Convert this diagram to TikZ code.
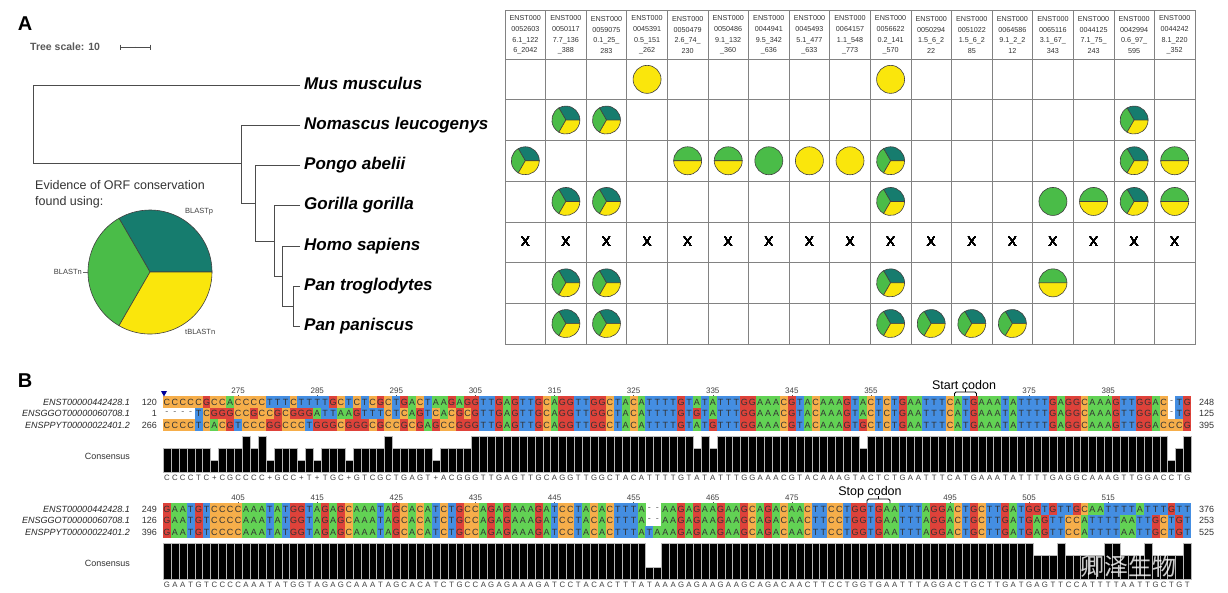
\documentclass[tikz,border=0pt]{standalone}
\usepackage{fontspec}
\setmainfont{Liberation Sans}
\newfontfamily\cjkfont{Noto Sans CJK SC}
\usepackage{xstring}
\usetikzlibrary{positioning}

\definecolor{cteal}{RGB}{22,124,110}
\definecolor{cgreen}{RGB}{74,188,72}
\definecolor{cyellow}{RGB}{250,230,12}
\definecolor{baseA}{RGB}{98,210,84}
\definecolor{baseC}{RGB}{246,174,74}
\definecolor{baseG}{RGB}{222,66,58}
\definecolor{baseT}{RGB}{68,142,226}
\definecolor{gridgray}{RGB}{130,130,130}

\tikzset{
  species/.style={font=\fontsize{17}{19}\selectfont\bfseries\itshape, anchor=west,
    inner xsep=4pt, inner ysep=0pt, text height=12.5pt, text depth=3.5pt},
  branch/.style={draw=black!70, line width=0.8pt},
  hdr/.style={font=\fontsize{7.2}{10.6}\selectfont, align=center, text=black!80, inner sep=0pt},
  gridline/.style={draw=gridgray, line width=0.6pt},
  pieedge/.style={draw=black!75, line width=0.6pt},
  xmark/.style={font=\fontsize{13.5}{14}\selectfont, inner sep=0pt},
  pielabel/.style={font=\fontsize{7.5}{8}\selectfont, text=black!75, inner sep=1pt},
  seqbase/.style={minimum width=7.95pt, minimum height=11.6pt, inner sep=0pt,
    font=\fontsize{9}{9}\selectfont, text=black!80},
  gapbase/.style={minimum width=7.9pt, minimum height=11.5pt, inner sep=0pt,
    font=\fontsize{9}{9}\selectfont, text=black!60},
  consbar/.style={fill=black, draw=gray!55, line width=0.2pt},
  conslet/.style={font=\fontsize{7.8}{8}\selectfont, text=black!75, inner sep=0pt},
  rulerlab/.style={font=\fontsize{8}{8}\selectfont, text=black!75, inner sep=0pt},
  rulertick/.style={draw=black!70, line width=0.5pt},
  idlab/.style={font=\fontsize{9}{9}\selectfont\itshape, text=black!85, anchor=east, inner sep=0pt},
  numlab/.style={font=\fontsize{9}{9}\selectfont, text=black!80, inner sep=0pt},
  codon/.style={font=\fontsize{12.5}{13}\selectfont, inner sep=0pt},
  bracket/.style={draw=black, line width=0.9pt, rounded corners=1.5pt}
}

% pies: #1 centre, #2 radius (with unit)
\newcommand\piep[2]{%
  \filldraw[pieedge, fill=cteal] #1 -- +(0:#2) arc[start angle=0, end angle=120, radius=#2] -- cycle;
  \filldraw[pieedge, fill=cgreen] #1 -- +(120:#2) arc[start angle=120, end angle=240, radius=#2] -- cycle;
  \filldraw[pieedge, fill=cyellow] #1 -- +(240:#2) arc[start angle=240, end angle=360, radius=#2] -- cycle;}
\newcommand\pieh[2]{%
  \filldraw[pieedge, fill=cgreen] #1 -- +(0:#2) arc[start angle=0, end angle=180, radius=#2] -- cycle;
  \filldraw[pieedge, fill=cyellow] #1 -- +(180:#2) arc[start angle=180, end angle=360, radius=#2] -- cycle;}
\newcommand\piey[2]{\filldraw[pieedge, fill=cyellow] #1 circle[radius=#2];}
\newcommand\pieg[2]{\filldraw[pieedge, fill=cgreen] #1 circle[radius=#2];}

% one cell of the alignment: x, y, base, name
\newcommand\basecell[4]{%
  \if#3-\node[gapbase] (#4) at (#1,#2) {-};%
  \else\node[seqbase, fill=base#3] (#4) at (#1,#2) {#3};\fi}

% alignment block: #1 first row y, #2-#4 rows, #5 name, #6 first ruler number, #7 hidden ruler label
\newcommand\alignblock[7]{%
  \foreach \i in {1,...,130}{%
    \pgfmathsetmacro\xc{163+(\i-0.5)*7.91}%
    \StrChar{#2}{\i}[\ba]\StrChar{#3}{\i}[\bb]\StrChar{#4}{\i}[\bc]%
    \basecell{\xc}{#1}{\ba}{#5h\i}%
    \basecell{\xc}{#1+11.5}{\bb}{#5g\i}%
    \basecell{\xc}{#1+23}{\bc}{#5p\i}%
    % consensus level and letter
    \def\lvl{1}\def\cl{+}%
    \edef\ngap{\the\numexpr(\if\ba-1\else0\fi)+(\if\bb-1\else0\fi)+(\if\bc-1\else0\fi)\relax}%
    \ifnum\ngap=2
      \if\ba-\else\edef\cl{\ba}\fi
      \if\bb-\else\edef\cl{\bb}\fi
      \if\bc-\else\edef\cl{\bc}\fi
    \fi
    \if\bb\bc\if\bb-\else\def\lvl{2}\edef\cl{\bb}\fi\fi
    \if\ba\bc\if\ba-\else\def\lvl{2}\edef\cl{\ba}\fi\fi
    \if\ba\bb\if\ba-\else\def\lvl{2}\edef\cl{\ba}\fi\fi
    \if\ba\bb\if\bb\bc\if\ba-\else\def\lvl{3}\fi\fi\fi
    \filldraw[consbar] (\xc-3.955,#1+70) rectangle ++(7.91,-12*\lvl);
    \node[conslet] (#5c\i) at (\xc,#1+76) {\cl};
  }%
  \foreach \j in {0,...,11}{%
    \ifnum\j=#7\else
    \pgfmathsetmacro\xc{163+(9.5+10*\j)*7.91}%
    \pgfmathtruncatemacro\pos{#6+10*\j}%
    \node[rulerlab] (#5r\j) at (\xc,#1-11) {\pos};
    \draw[rulertick] (\xc,#1-7.2) -- (\xc,#1-6.2);
    \fi
  }}

% sequences
\def\seqHa{CCCCCGCCACCCCTTTCTTTTGCTCTCGCTGACTAAGAGGTTGAGTTGCAGGTTGGCTACATTTTGTATATTTGGAAACGTACAAAGTACTCTGAATTTCATGAAATATTTTGAGGCAAAGTTGGAC-TG}
\def\seqGa{----TCGGGCCGCCGCGGGATTAAGTTTCTCAGTCACGCGTTGAGTTGCAGGTTGGCTACATTTTGTGTATTTGGAAACGTACAAAGTACTCTGAATTTCATGAAATATTTTGAGGCAAAGTTGGAC-TG}
\def\seqPa{CCCCTCACGTCCCGGCCCTGGGCGGGCGCCGCGAGCCGGGTTGAGTTGCAGGTTGGCTACATTTTGTATGTTTGGAAACGTACAAAGTGCTCTGAATTTCATGAAATATTTTGAGGCAAAGTTGGACCCG}
\def\seqHb{GAATGTCCCCAAATATGGTAGAGCAAATAGCACATCTGCCAGAGAAAGATCCTACACTTTA--AAGAGAAGAAGCAGACAACTTCCTGGTGAATTTAGGACTGCTTGATGGTGTTGCAATTTTATTTGTT}
\def\seqGb{GAATGTCCCCAAATATGGTAGAGCAAATAGCACATCTGCCAGAGAAAGATCCTACACTTTA--AAGAGAAGAAGCAGACAACTTCCTGGTGAATTTAGGACTGCTTGATGAGTTCCATTTTAATTGCTGT}
\def\seqPb{GAATGTCCCCAAATATGGTAGAGCAAATAGCACATCTGCCAGAGAAAGATCCTACACTTTATAAAGAGAAGAAGCAGACAACTTCCTGGTGAATTTAGGACTGCTTGATGAGTTCCATTTTAATTGCTGT}

\begin{document}
\begin{tikzpicture}[x=1pt, y=-1pt]
  \useasboundingbox[fill=white] (0,0) rectangle (1228,592);

  % panel A: tree
  \node[font=\fontsize{20}{20}\selectfont\bfseries, inner sep=0pt] (panA) at (25,24) {A};
  \node[font=\fontsize{10.5}{11}\selectfont\bfseries, text=black!65, anchor=west, inner sep=0pt] (scale) at (30,47) {Tree scale: 10};
  \draw[black!70, line width=0.7pt] (120,47) -- (150,47);
  \draw[black!70, line width=0.7pt] (120,44.5) -- (120,49.5) (150,44.5) -- (150,49.5) (135,46.5) -- (135,47.5);

  \node[species] (mus) at (300,85) {Mus musculus};
  \node[species] (nomascus) at (300,125) {Nomascus leucogenys};
  \node[species] (pongo) at (300,165) {Pongo abelii};
  \node[species] (gorilla) at (300,205) {Gorilla gorilla};
  \node[species] (homo) at (300,246) {Homo sapiens};
  \node[species] (ptro) at (300,286) {Pan troglodytes};
  \node[species] (ppan) at (300,326) {Pan paniscus};

  \draw[branch] (mus.west) -| (33,163) -- (241,163);
  \draw[branch] (nomascus.west) -| (241,203) -- (255,203);
  \draw[branch] (pongo.west) -| (255,241) -- (274,241);
  \draw[branch] (gorilla.west) -| (274,276) -- (282,276);
  \draw[branch] (homo.west) -| (282,306) -- (293,306);
  \draw[branch] (ptro.west) -| (293,326) -- (ppan.west);

  % legend
  \node[anchor=north west, align=left, font=\fontsize{12.5}{16}\selectfont, text=black!80, inner sep=0pt] (evid) at (35,180) {Evidence of ORF conservation\\found using:};
  \piep{(150,272)}{62pt}
  \node[pielabel, anchor=west] (lblp) at (184,212) {BLASTp};
  \node[pielabel, anchor=east] (lbln) at (83,272) {BLASTn};
  \node[pielabel, anchor=west] (lblt) at (184,332) {tBLASTn};
  \draw[black!60, line width=0.4pt] (lbln.east) -- (88,272);

  % panel A: table
  \draw[gridline] (505,10) rectangle (1195,344);
  \foreach \c in {1,...,16}
    \draw[gridline] ({505+\c*40.588},10) -- ({505+\c*40.588},344);
  \foreach \r in {0,...,6}
    \draw[gridline] (505,{59+\r*40.7}) -- (1195,{59+\r*40.7});
  \foreach \a/\b/\c [count=\k] in {0052603/6.1\_122/6\_2042, 0050117/7.7\_136/\_388,
      0059075/0.1\_25\_/283, 0045391/0.5\_151/\_262, 0050479/2.6\_74\_/230,
      0050486/9.1\_132/\_360, 0044941/9.5\_342/\_636, 0045493/5.1\_477/\_633,
      0064157/1.1\_548/\_773, 0056622/0.2\_141/\_570, 0050294/1.5\_6\_2/22,
      0051022/1.5\_6\_2/85, 0064586/9.1\_2\_2/12, 0065116/3.1\_67\_/343,
      0044125/7.1\_75\_/243, 0042994/0.6\_97\_/595, 0044242/8.1\_220/\_352}
    \node[hdr] (hdr\k) at ({505+(\k-0.5)*40.588},35) {ENST000\\\a\\\b\\\c};

  \foreach \c/\r/\t in {4/1/y, 10/1/y,
      2/2/p, 3/2/p, 16/2/p,
      1/3/p, 5/3/h, 6/3/h, 7/3/g, 8/3/y, 9/3/y, 10/3/p, 16/3/p, 17/3/h,
      2/4/p, 3/4/p, 10/4/p, 14/4/g, 15/4/h, 16/4/p, 17/4/h,
      2/6/p, 3/6/p, 10/6/p, 14/6/h,
      2/7/p, 3/7/p, 10/7/p, 11/7/p, 12/7/p, 13/7/p}
    \csname pie\t\endcsname{({505+(\c-0.5)*40.588},{79.35+(\r-1)*40.7})}{14pt}
  \foreach \c in {1,...,17}
    \node[xmark] (x\c) at ({505+(\c-0.5)*40.588},{79.35+4*40.7}) {X};

  % panel B
  \node[font=\fontsize{20}{20}\selectfont\bfseries, inner sep=0pt] (panB) at (25,381) {B};

  \alignblock{402}{\seqHa}{\seqGa}{\seqPa}{ba}{275}{9}
  \alignblock{509}{\seqHb}{\seqGb}{\seqPb}{bb}{405}{8}

  \fill[blue!60!black] (161,391) -- (167,391) -- (164,396.5) -- cycle;

  \foreach \y/\n/\id/\s/\e in {402/a/ENST00000442428.1/120/248, 413.5/b/ENSGGOT00000060708.1/1/125,
      425/c/ENSPPYT00000022401.2/266/395, 509/d/ENST00000442428.1/249/376,
      520.5/e/ENSGGOT00000060708.1/126/253, 532/f/ENSPPYT00000022401.2/396/525}{
    \node[idlab] (id\n) at (130,\y) {\id};
    \node[numlab, anchor=east] (st\n) at (157,\y) {\s};
    \node[numlab, anchor=west] (en\n) at (1199,\y) {\e};
  }
  \node[numlab, anchor=east] (cons1) at (130,456) {Consensus};
  \node[numlab, anchor=east] (cons2) at (130,563) {Consensus};

  % codon marks
  \node[codon] (start) at (964,385) {Start codon};
  \draw[bracket] (954.5,396) -- (954.5,392) -- (976.5,392) -- (976.5,396) (965.5,392) -- (965.5,389);
  \node[codon] (stop) at (870,492) {Stop codon};
  \draw[bracket] (867,503) -- (867,499) -- (890,499) -- (890,503) (878.5,499) -- (878.5,496);

  \node[font=\cjkfont\fontsize{24}{24}\selectfont, text=white, opacity=0.8, inner sep=0pt] (wm) at (1128,566) {卿泽生物};
\end{tikzpicture}
\end{document}
